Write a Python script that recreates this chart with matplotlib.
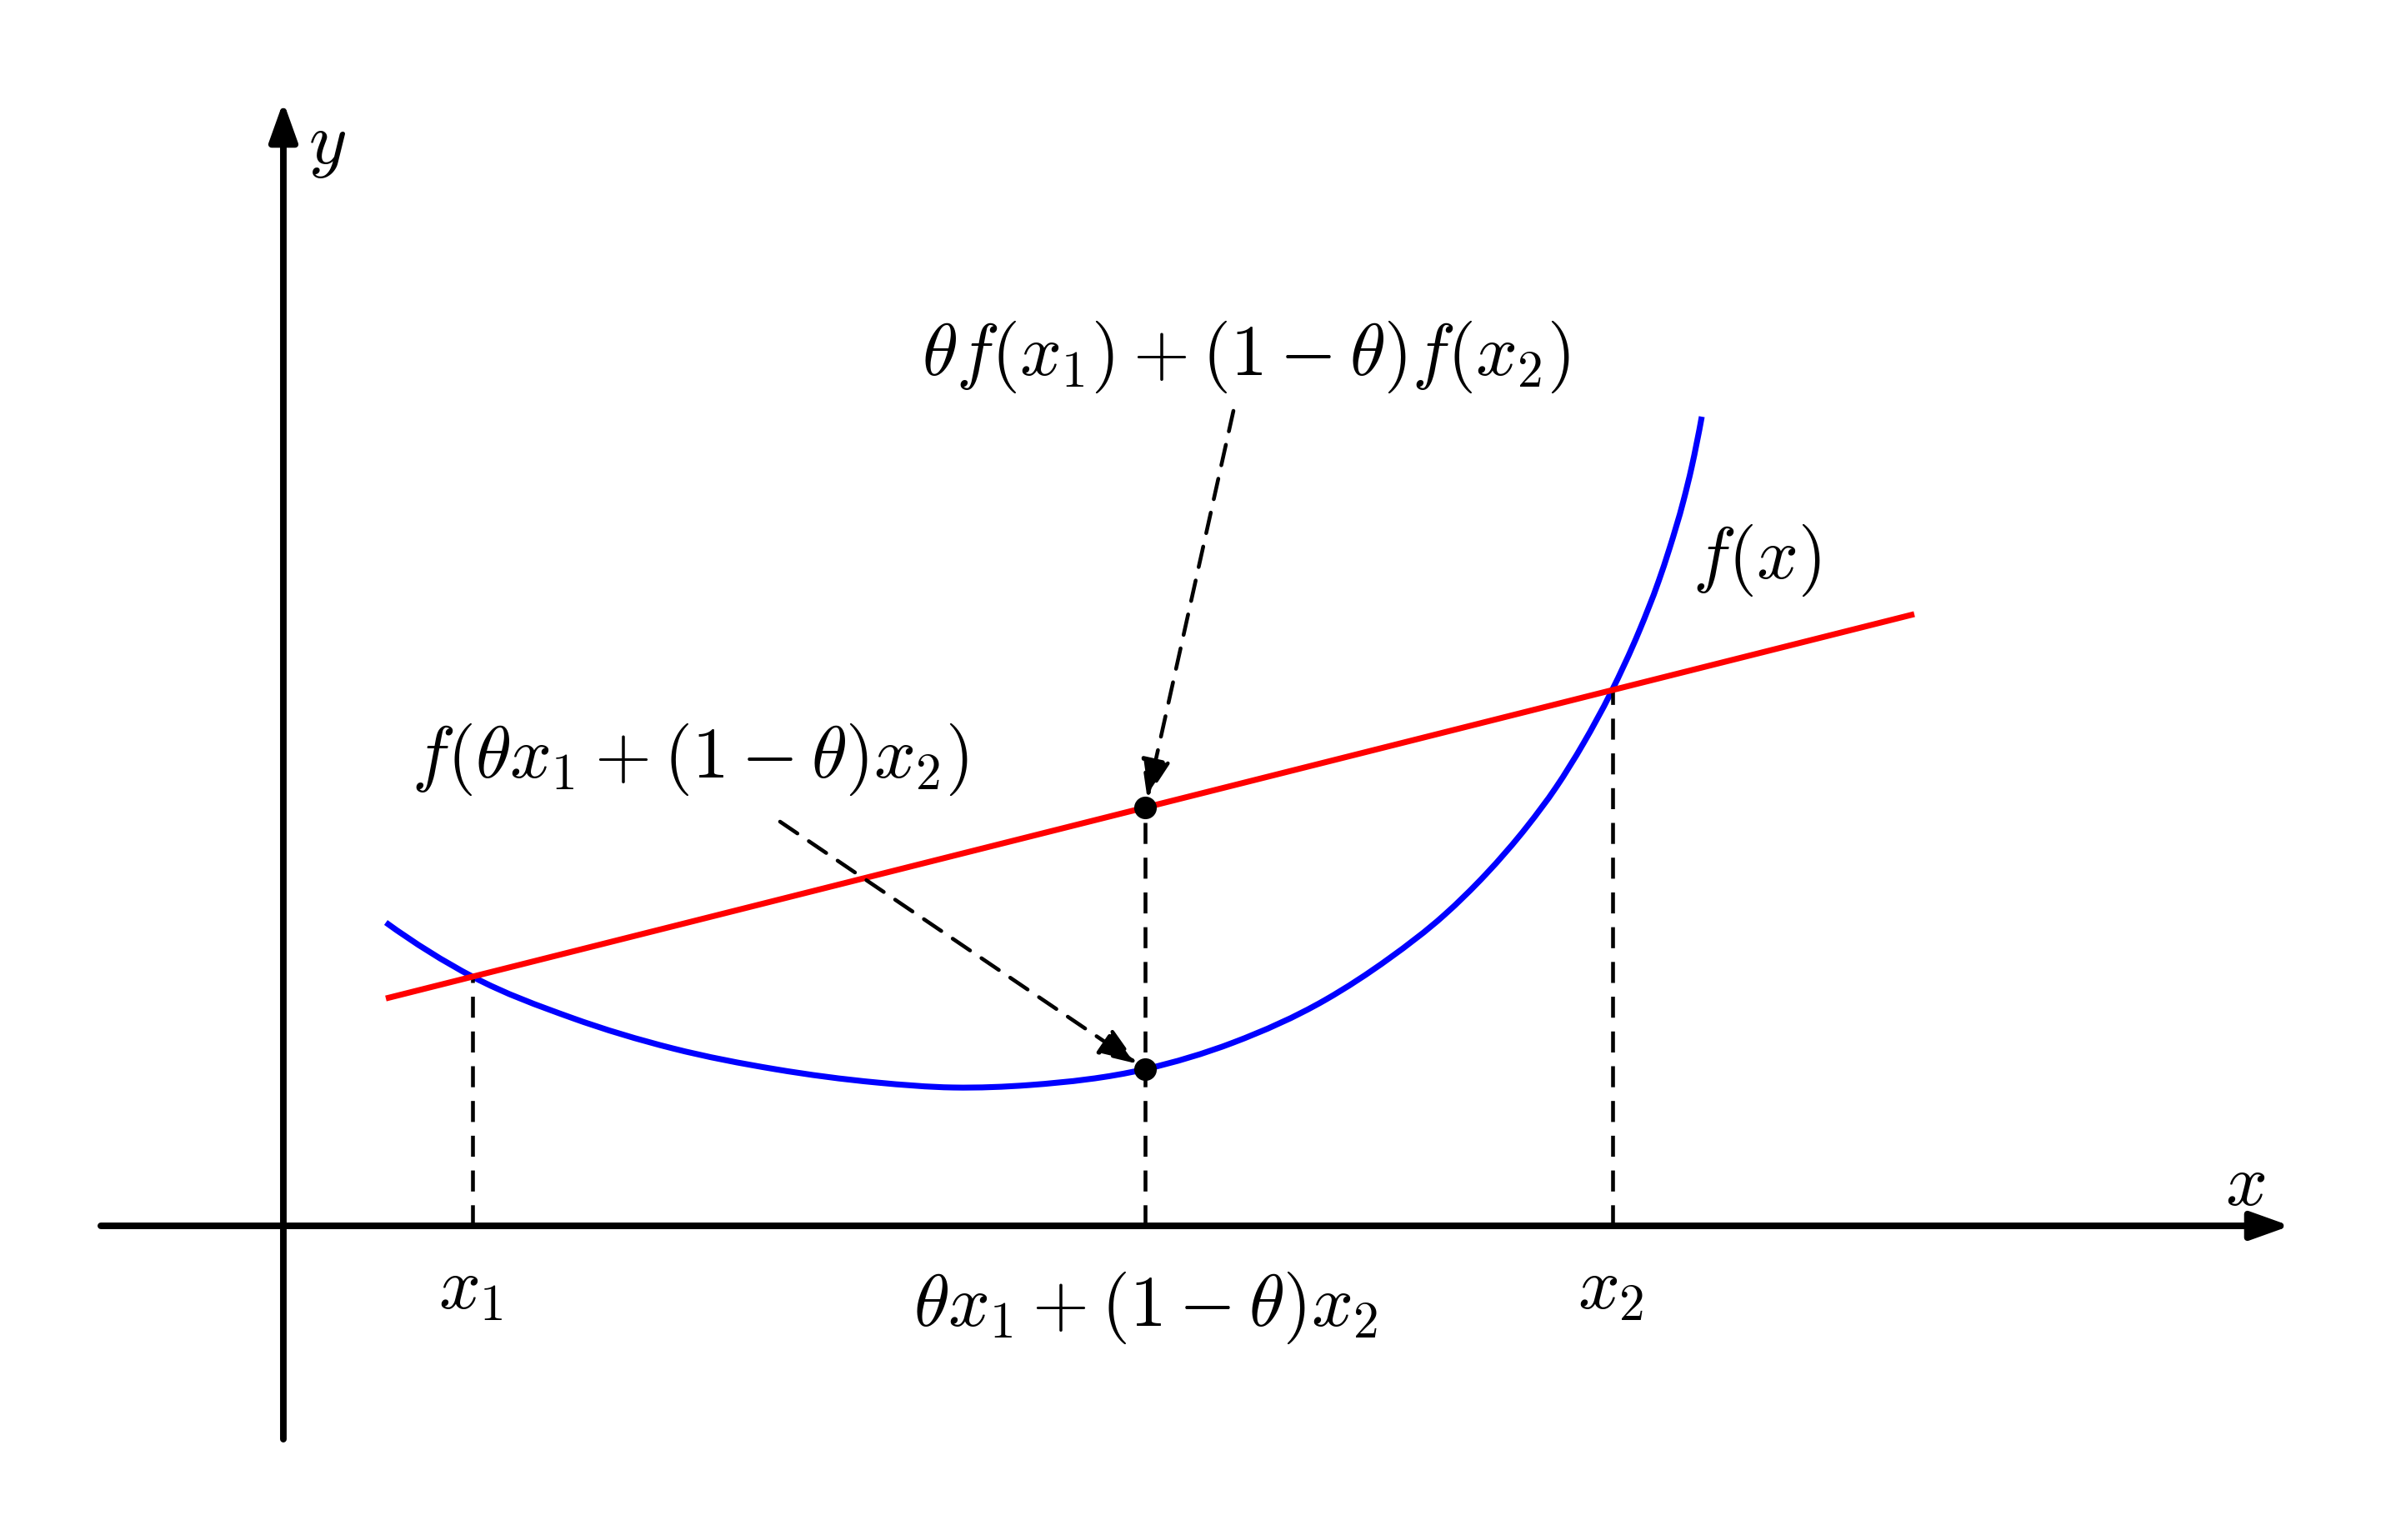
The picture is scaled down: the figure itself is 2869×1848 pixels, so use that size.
import numpy as np
import matplotlib
matplotlib.use("Agg")
import matplotlib.pyplot as plt
from matplotlib.path import Path
from matplotlib.patches import PathPatch

plt.rcParams['mathtext.fontset'] = 'cm'

# convex function f(x)
curve_x = [1.23, 2.27, 3.45, 4.67, 5.90, 7.12, 8.04, 8.96, 10.34, 11.40, 12.50,
           13.27, 13.93, 14.43, 14.93, 15.27, 15.60, 15.93, 16.27, 16.50, 16.63,
           16.80, 16.90, 17.02]
curve_y = [3.64, 2.99, 2.50, 2.13, 1.88, 1.72, 1.66, 1.69, 1.88, 2.20, 2.71,
           3.21, 3.73, 4.22, 4.80, 5.26, 5.79, 6.40, 7.14, 7.73, 8.12,
           8.70, 9.11, 9.71]

x1, fx1 = 2.27, 2.99
x2, fx2 = 15.95, 6.43
theta = 0.41
fxm = 1.88          # f(theta*x1 + (1-theta)*x2)
chord_x = [1.23, 19.57]

xm = theta * x1 + (1 - theta) * x2
chord_m = theta * fx1 + (1 - theta) * fx2
slope = (fx2 - fx1) / (x2 - x1)
chord_y = [fx1 + slope * (cx - x1) for cx in chord_x]


def smooth_path(xs, ys):
    # smooth curve through the points: cubic Hermite in x drawn as Bezier segments
    xs, ys = np.asarray(xs), np.asarray(ys)
    h = np.diff(xs)
    d = np.diff(ys) / h
    m = np.empty_like(xs)
    m[1:-1] = (d[:-1] * h[1:] + d[1:] * h[:-1]) / (h[:-1] + h[1:])
    m[0] = d[0] - h[0] * (d[1] - d[0]) / (h[0] + h[1])
    m[-1] = d[-1] + h[-1] * (d[-1] - d[-2]) / (h[-2] + h[-1])
    verts = [(xs[0], ys[0])]
    codes = [Path.MOVETO]
    for i in range(len(h)):
        verts += [(xs[i] + h[i] / 3, ys[i] + m[i] * h[i] / 3),
                  (xs[i + 1] - h[i] / 3, ys[i + 1] - m[i + 1] * h[i] / 3),
                  (xs[i + 1], ys[i + 1])]
        codes += [Path.CURVE4] * 3
    return Path(verts, codes)


fig = plt.figure(figsize=(2869 / 300, 1848 / 300), dpi=300)
ax = fig.add_axes([0, 0, 1, 1])
ax.set_xlim(-3.40, 25.29)
ax.set_ylim(-3.77, 14.71)
ax.axis('off')

# axes with arrow heads
axis_arrow = dict(arrowstyle='-|>,head_length=0.95,head_width=0.34', mutation_scale=10,
                  lw=1.9, color='black', shrinkA=0, shrinkB=0)
ax.annotate('', xy=(24.08, 0), xytext=(-2.19, 0), arrowprops=axis_arrow)
ax.annotate('', xy=(0, 13.49), xytext=(0, -2.56), arrowprops=axis_arrow)

dash = (0, (5.5, 3.6))
ax.plot([x1, x1], [0, fx1], color='black', lw=1.1, linestyle=dash)
ax.plot([xm, xm], [0, chord_m], color='black', lw=1.1, linestyle=dash)
ax.plot([x2, x2], [0, fx2], color='black', lw=1.1, linestyle=dash)

ax.plot(chord_x, chord_y, color='red', lw=1.7, solid_capstyle='butt')
ax.add_patch(PathPatch(smooth_path(curve_x, curve_y), fill=False, edgecolor='blue',
                       lw=1.7, capstyle='butt'))

ax.plot([xm, xm], [chord_m, fxm], 'o', color='black', markersize=5.5, zorder=5)

pointer = dict(arrowstyle='-|>,head_length=0.95,head_width=0.36', mutation_scale=10,
               lw=1.1, linestyle=dash, color='black', shrinkA=0, shrinkB=2.8)
ax.annotate('', xy=(xm, chord_m), xytext=(11.40, 9.78), arrowprops=pointer, zorder=6)
ax.annotate('', xy=(xm, fxm), xytext=(5.96, 4.85), arrowprops=pointer, zorder=6)

fs = 21
ax.text(11.55, 10.43, r'$\theta f(x_1) + (1-\theta) f(x_2)$', fontsize=fs, ha='center', va='center')
ax.text(4.88, 5.60, r'$f(\theta x_1 + (1-\theta) x_2)$', fontsize=fs, ha='center', va='center')
ax.text(10.34, -0.98, r'$\theta x_1 + (1-\theta) x_2$', fontsize=fs, ha='center', va='center')
ax.text(2.25, -0.75, r'$x_1$', fontsize=fs, ha='center', va='center')
ax.text(15.93, -0.75, r'$x_2$', fontsize=fs, ha='center', va='center')
ax.text(17.68, 7.99, r'$f(x)$', fontsize=fs, ha='center', va='center')
ax.text(0.52, 12.97, r'$y$', fontsize=fs, ha='center', va='center')
ax.text(23.54, 0.49, r'$x$', fontsize=fs, ha='center', va='center')

fig.savefig('out.png', dpi=300, facecolor='white')
